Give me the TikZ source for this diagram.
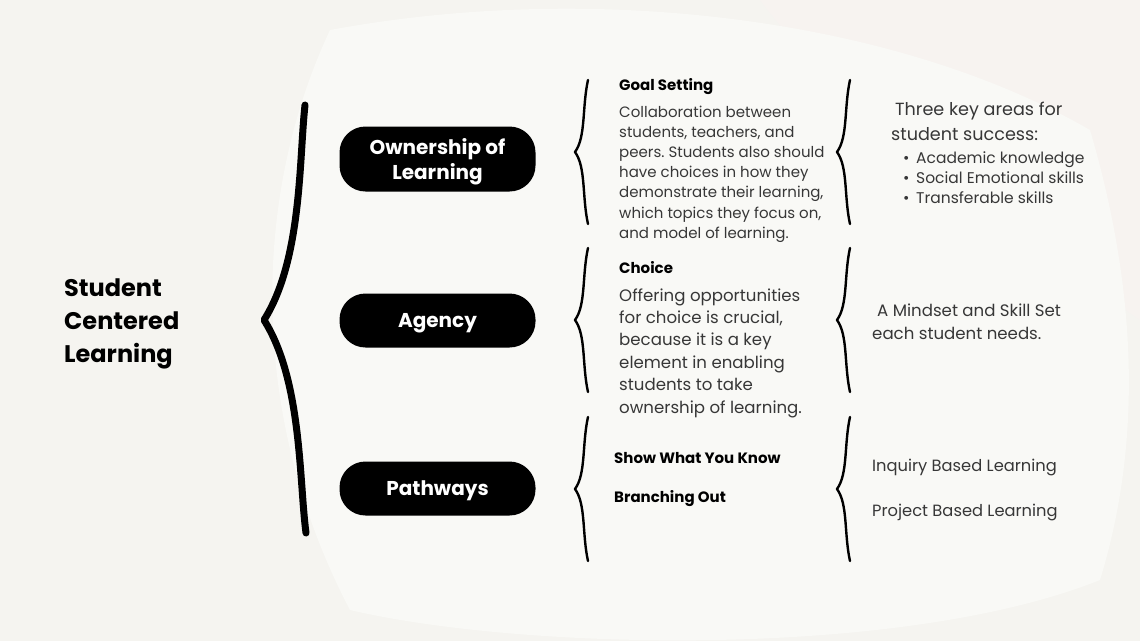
\documentclass[tikz,border=0pt]{standalone}
\usepackage{fontspec}
\setmainfont{Poppins}
\definecolor{PageBg}{RGB}{245,244,240}
\definecolor{PaperWhite}{RGB}{249,249,246}
\definecolor{BlushTint}{RGB}{247,243,240}
\definecolor{InkGray}{RGB}{55,55,55}
\usepackage{tikz}
\usetikzlibrary{positioning}
\frenchspacing

\begin{document}
\begin{tikzpicture}[
            x=1pt, y=-1pt,
            node distance=4pt,
            pill/.style={rectangle, rounded corners=26pt, fill=black, text=white,
                         minimum width=196pt, minimum height=54pt, align=center, text depth=0pt,
                         font=\bfseries\fontsize{20}{25}\selectfont},
            head/.style={anchor=west, inner sep=0pt, font=\bfseries\fontsize{15}{18}\selectfont},
            body/.style={anchor=west, inner sep=0pt, align=left, text=InkGray},
            bracket/.style={line width=2.4pt, line cap=round, line join=round}
        ]
            \useasboundingbox (0,0) rectangle (1140,641);
            % background
            \fill[PageBg] (0,0) rectangle (1140,641);
            \fill[BlushTint] (760,0) -- (1140,0) -- (1140,320) .. controls (1000,220) and (850,120) .. cycle;
            \fill[PaperWhite] (330,30) .. controls (600,-20) and (900,20) .. (1090,130)
                .. controls (1140,300) and (1140,450) .. (1100,580)
                .. controls (900,660) and (520,650) .. (350,610)
                .. controls (250,420) and (250,200) .. cycle;

            % left side
            \node[anchor=west, inner sep=0pt, align=left,
                  font=\bfseries\fontsize{24}{33}\selectfont] (title) at (64,324) {Student\\Centered\\Learning};
            \draw[line width=7pt, line cap=round, line join=round]
                (305,105) .. controls (299,160) and (302,260) .. (264,320)
                .. controls (302,380) and (299,480) .. (306,533);

            \node[pill, minimum height=65pt] (own) at (437.5,159) {Ownership of\\Learning};
            \node[pill] (agency) at (437.5,320.5) {Agency};
            \node[pill] (paths) at (437.5,488.5) {Pathways};

            % braces
            \foreach \xb in {588,850}
                \foreach \yc in {152,320,489}
                    \draw[bracket] (\xb,\yc-72) .. controls (\xb-6,\yc-45) and (\xb-2,\yc-15) .. (\xb-13,\yc)
                        .. controls (\xb-2,\yc+15) and (\xb-6,\yc+45) .. (\xb,\yc+72);

            % middle column
            \node[head] (goal) at (619,87) {Goal Setting};
            \node[body, font=\fontsize{15}{20.2}\selectfont] (goaltext) at (619,174)
                {Collaboration between\\students, teachers, and\\peers. Students also should\\have choices in how they\\demonstrate their learning,\\which topics they focus on,\\and model of learning.};
            \node[head] (choice) at (619,268) {Choice};
            \node[body, font=\fontsize{16.6}{22.4}\selectfont] (choicetext) at (619,353)
                {Offering opportunities\\for choice is crucial,\\because it is a key\\element in enabling\\students to take\\ownership of learning.};
            \node[head] (show) at (614,458) {Show What You Know};
            \node[head] (branch) at (614,499) {Branching Out};

            % right column
            \node[body, font=\fontsize{17.6}{25}\selectfont] (keyareas) at (891,121.5)
                {\hspace*{4pt}Three key areas for\\student success:};
            \node[body, font=\fontsize{15.5}{20}\selectfont] (skills) at (903,178)
                {\makebox[13pt][l]{•}Academic knowledge\\\makebox[13pt][l]{•}Social Emotional skills\\\makebox[13pt][l]{•}Transferable skills};
            \node[body, font=\fontsize{16.6}{23}\selectfont] (mindset) at (872,321.5)
                {\hspace*{5pt}A Mindset and Skill Set\\each student needs.};
            \node[body, font=\fontsize{16.3}{20}\selectfont] (inquiry) at (872,467) {Inquiry Based Learning};
            \node[body, font=\fontsize{16.3}{20}\selectfont, below=45pt of inquiry.west, anchor=west] (project) {Project Based Learning};
        \end{tikzpicture}
\end{document}
